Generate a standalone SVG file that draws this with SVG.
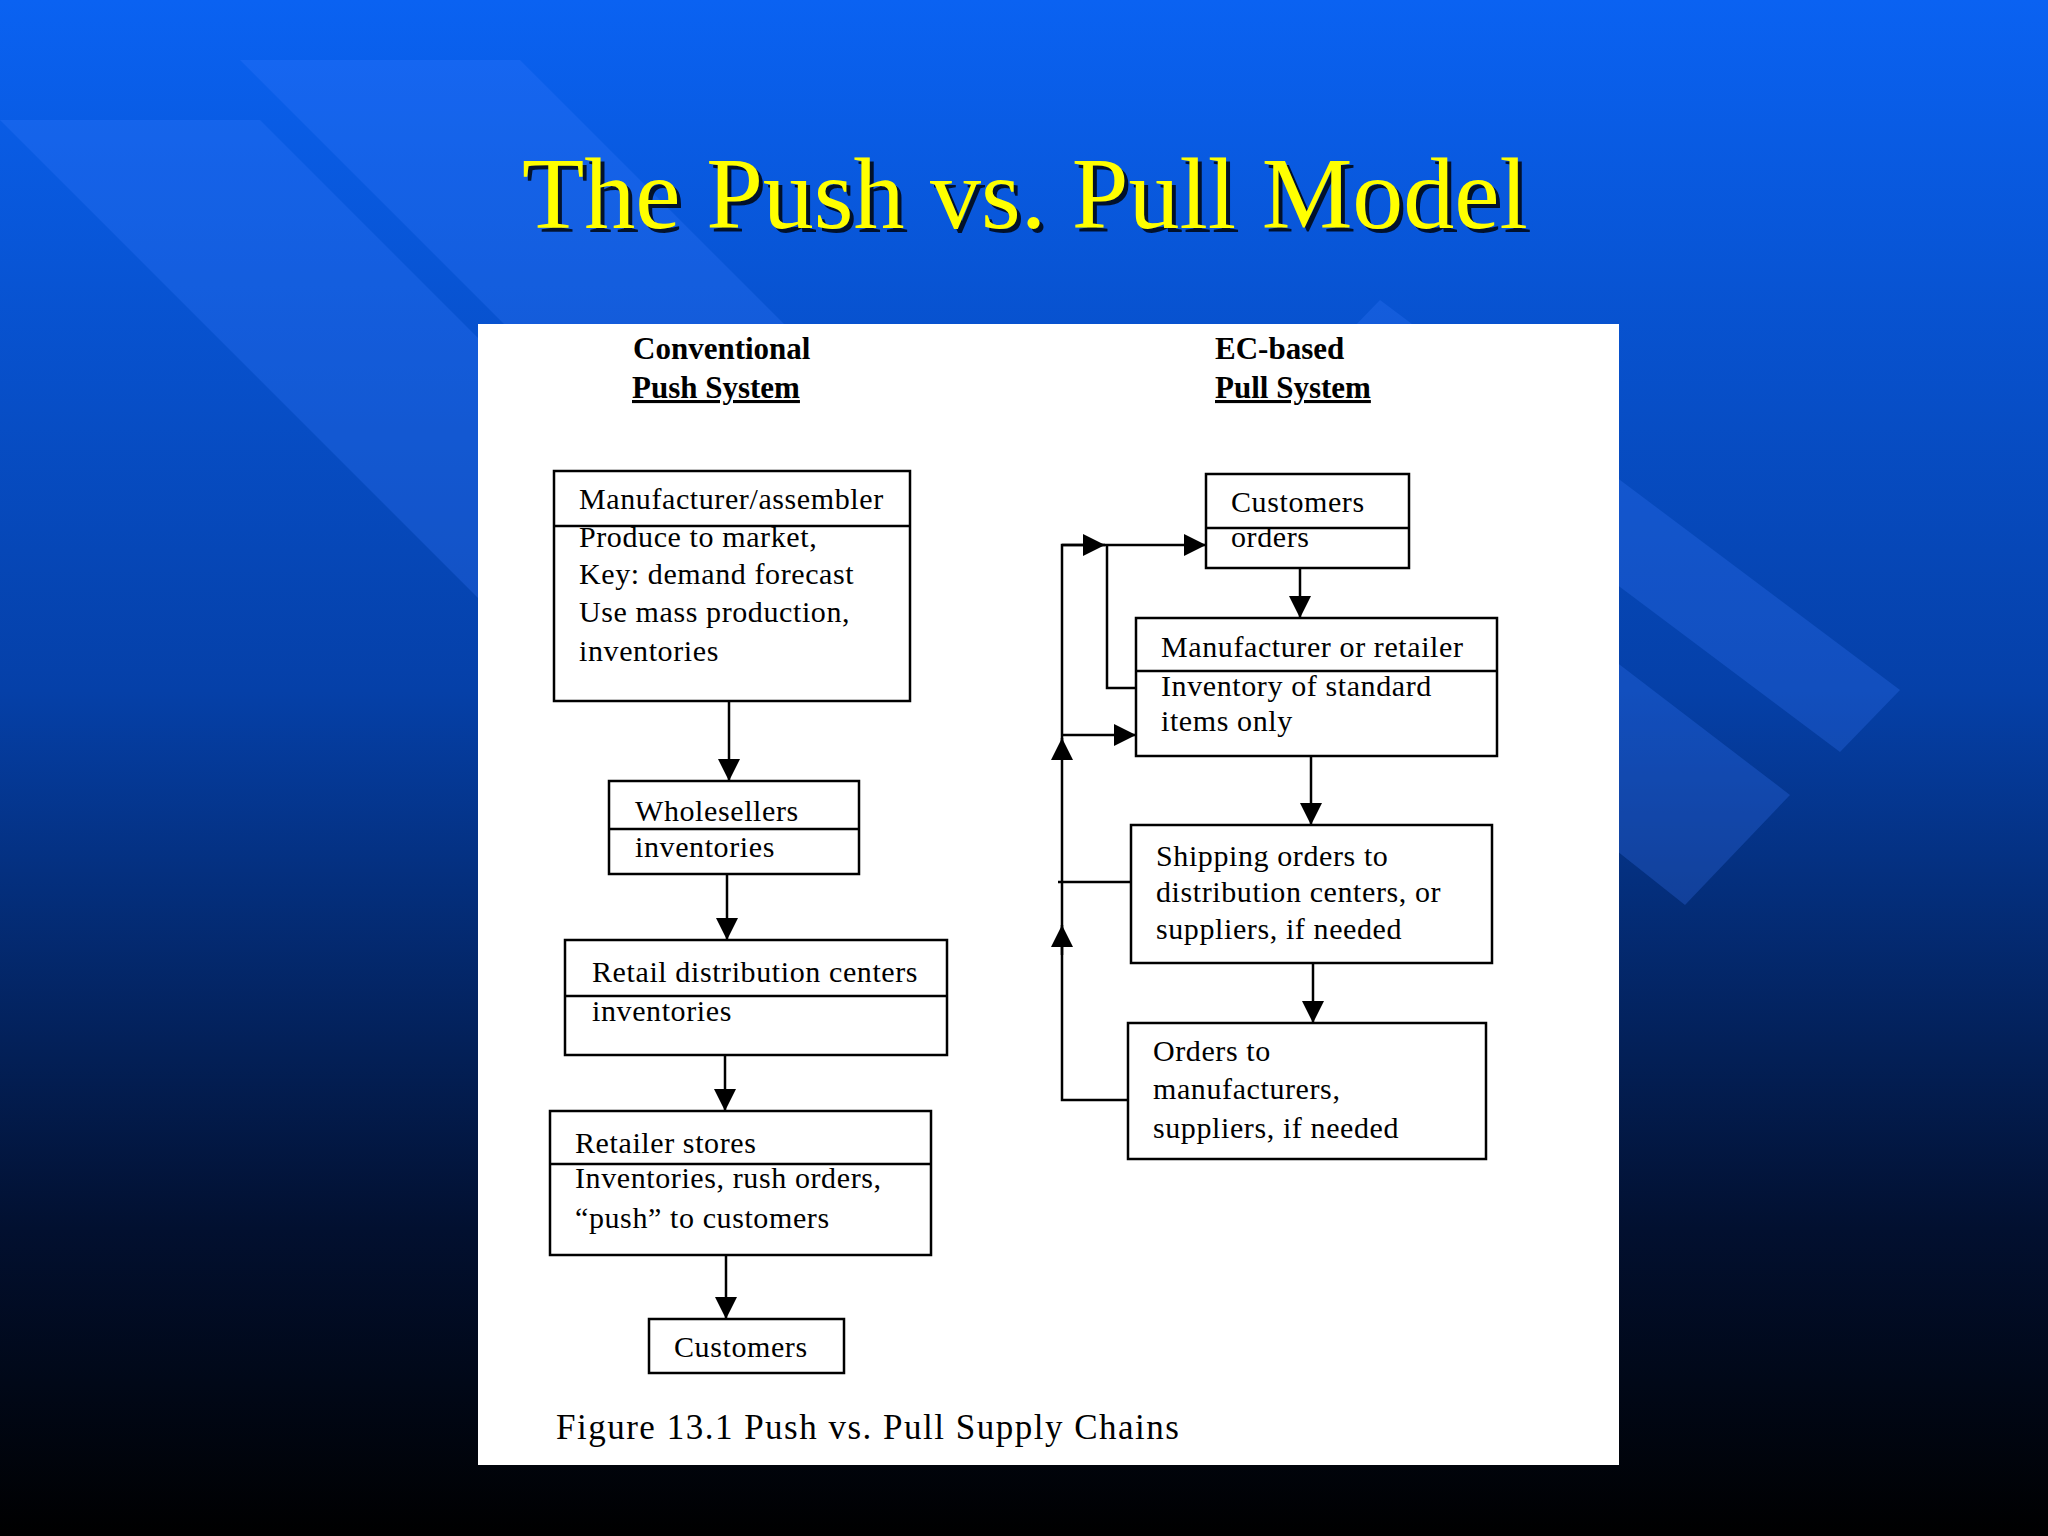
<svg xmlns="http://www.w3.org/2000/svg" width="2048" height="1536" viewBox="0 0 2048 1536">
<defs>
<linearGradient id="bg" x1="0" y1="0" x2="0" y2="1">
<stop offset="0" stop-color="#0a62f2"/>
<stop offset="0.45" stop-color="#0540a8"/>
<stop offset="0.8" stop-color="#021030"/>
<stop offset="1" stop-color="#000000"/>
</linearGradient>
<marker id="ah" viewBox="0 0 10 10" refX="10" refY="5" markerWidth="22" markerHeight="22" markerUnits="userSpaceOnUse" orient="auto"><path d="M0,0 L10,5 L0,10 z" fill="#000"/></marker>
</defs>
<style>
.box{fill:#fff;stroke:#000;stroke-width:2.5}
.ln{stroke:#000;stroke-width:2.5;fill:none}
.t{font-family:"Liberation Serif",serif;font-size:30px;letter-spacing:0.6px;fill:#000}
.h{font-family:"Liberation Serif",serif;font-size:31px;font-weight:bold;fill:#000}
</style>
<rect width="2048" height="1536" fill="url(#bg)"/>
<g fill="#3a7cff" opacity="0.25">
<polygon points="0,120 260,120 900,760 640,760"/>
<polygon points="240,60 520,60 1160,700 880,700"/>
<polygon points="1380,300 1900,690 1840,752 1320,362"/>
<polygon points="1300,420 1790,795 1685,905 1250,560"/>
</g>
<text x="1029" y="232" text-anchor="middle" font-family="Liberation Serif,serif" font-size="102" fill="#000" opacity="0.8">The Push vs. Pull Model</text>
<text x="1025" y="228" text-anchor="middle" font-family="Liberation Serif,serif" font-size="102" fill="#ffff00">The Push vs. Pull Model</text>
<rect x="478" y="324" width="1141" height="1141" fill="#fff"/>
<g id="headers">
<text class="h" x="633" y="359">Conventional</text>
<text class="h" x="632" y="398" text-decoration="underline">Push System</text>
<text class="h" x="1215" y="359">EC-based</text>
<text class="h" x="1215" y="398" text-decoration="underline">Pull System</text>
</g>
<g id="connectors">
<line class="ln" x1="729" y1="701" x2="729" y2="781" marker-end="url(#ah)"/>
<line class="ln" x1="727" y1="874" x2="727" y2="940" marker-end="url(#ah)"/>
<line class="ln" x1="725" y1="1055" x2="725" y2="1111" marker-end="url(#ah)"/>
<line class="ln" x1="726" y1="1255" x2="726" y2="1319" marker-end="url(#ah)"/>
<line class="ln" x1="1300" y1="568" x2="1300" y2="618" marker-end="url(#ah)"/>
<line class="ln" x1="1311" y1="756" x2="1311" y2="825" marker-end="url(#ah)"/>
<line class="ln" x1="1313" y1="963" x2="1313" y2="1023" marker-end="url(#ah)"/>
<polyline class="ln" points="1128,1100 1062,1100 1062,545 1206,545" marker-end="url(#ah)"/>
<line class="ln" x1="1062" y1="545" x2="1105" y2="545" marker-end="url(#ah)"/>
<polyline class="ln" points="1136,688 1107,688 1107,545"/>
<line class="ln" x1="1062" y1="735" x2="1136" y2="735" marker-end="url(#ah)"/>
<line class="ln" x1="1058" y1="882" x2="1131" y2="882"/>
<line class="ln" x1="1062" y1="760" x2="1062" y2="738" marker-end="url(#ah)"/>
<line class="ln" x1="1062" y1="955" x2="1062" y2="925" marker-end="url(#ah)"/>
</g>
<g id="n1"><rect class="box" x="554" y="471" width="356" height="230"/><line class="ln" x1="554" y1="526" x2="910" y2="526"/>
<text class="t" x="579" y="509">Manufacturer/assembler</text><text class="t" x="579" y="547">Produce to market,</text><text class="t" x="579" y="584">Key: demand forecast</text><text class="t" x="579" y="622">Use mass production,</text><text class="t" x="579" y="661">inventories</text></g>
<g id="n2"><rect class="box" x="609" y="781" width="250" height="93"/><line class="ln" x1="609" y1="829" x2="859" y2="829"/>
<text class="t" x="635" y="821">Wholesellers</text><text class="t" x="635" y="857">inventories</text></g>
<g id="n3"><rect class="box" x="565" y="940" width="382" height="115"/><line class="ln" x1="565" y1="996" x2="947" y2="996"/>
<text class="t" x="592" y="982">Retail distribution centers</text><text class="t" x="592" y="1021">inventories</text></g>
<g id="n4"><rect class="box" x="550" y="1111" width="381" height="144"/><line class="ln" x1="550" y1="1164" x2="931" y2="1164"/>
<text class="t" x="575" y="1153">Retailer stores</text><text class="t" x="575" y="1188">Inventories, rush orders,</text><text class="t" x="575" y="1228">“push” to customers</text></g>
<g id="n5"><rect class="box" x="649" y="1319" width="195" height="54"/><text class="t" x="674" y="1357">Customers</text></g>
<g id="p1"><rect class="box" x="1206" y="474" width="203" height="94"/><line class="ln" x1="1206" y1="528" x2="1409" y2="528"/>
<text class="t" x="1231" y="512">Customers</text><text class="t" x="1231" y="547">orders</text></g>
<g id="p2"><rect class="box" x="1136" y="618" width="361" height="138"/><line class="ln" x1="1136" y1="671" x2="1497" y2="671"/>
<text class="t" x="1161" y="657">Manufacturer or retailer</text><text class="t" x="1161" y="696">Inventory of standard</text><text class="t" x="1161" y="731">items only</text></g>
<g id="p3"><rect class="box" x="1131" y="825" width="361" height="138"/>
<text class="t" x="1156" y="866">Shipping orders to</text><text class="t" x="1156" y="902">distribution centers, or</text><text class="t" x="1156" y="939">suppliers, if needed</text></g>
<g id="p4"><rect class="box" x="1128" y="1023" width="358" height="136"/>
<text class="t" x="1153" y="1061">Orders to</text><text class="t" x="1153" y="1099">manufacturers,</text><text class="t" x="1153" y="1138">suppliers, if needed</text></g>
<text x="556" y="1439" font-family="Liberation Serif,serif" font-size="35" letter-spacing="1.5" fill="#000">Figure 13.1 Push vs. Pull Supply Chains</text>
</svg>
